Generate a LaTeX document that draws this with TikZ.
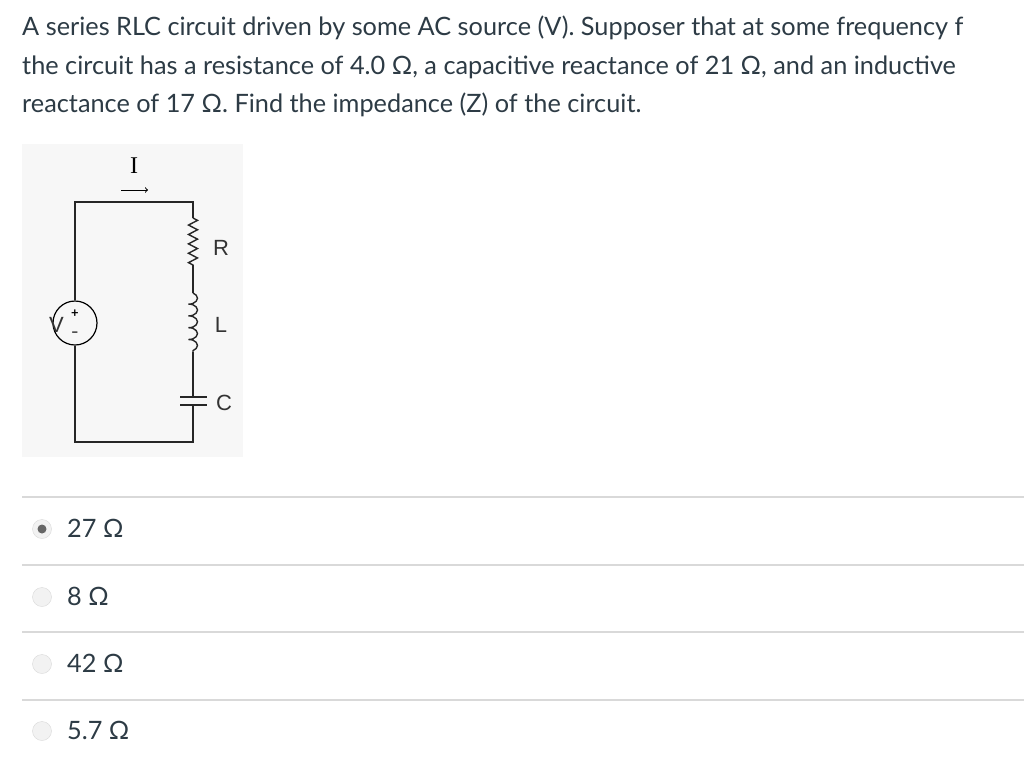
\documentclass[tikz,border=0pt]{standalone}
\usepackage{fontspec}
\setmainfont{Lato}
\newfontfamily\arialf{Liberation Sans}
\newfontfamily\serf{Liberation Serif}
\usetikzlibrary{decorations.pathmorphing}
\definecolor{txt}{HTML}{2D3B45}
\tikzset{x=1pt,y=-1pt,
 wire/.style={line width=1.4pt,black!85},
 q/.style={anchor=base west,font=\fontsize{25.3}{28}\selectfont,text=txt,inner sep=0},
 lab/.style={font=\arialf\fontsize{22}{24}\selectfont,text=black!80,inner sep=0},
 sep/.style={draw=black!15,line width=1.2pt},
 radio/.style={circle,minimum size=19pt,inner sep=0,draw=black!15,fill=black!5}}
\begin{document}
\begin{tikzpicture}
\useasboundingbox (0,0) rectangle (1024,769);
\fill[white] (0,0) rectangle (1024,769);
\node[q] (t1) at (22,35) {A series RLC circuit driven by some AC source (V). Supposer that at some frequency f};
\node[q] (t2) at (22,74) {the circuit has a resistance of 4.0 Ω, a capacitive reactance of 21 Ω, and an inductive};
\node[q] (t3) at (22,112) {reactance of 17 Ω. Find the impedance (Z) of the circuit.};
% circuit panel
\fill[black!3] (22,144) rectangle (243,457);
\coordinate (tl) at (75,202); \coordinate (tr) at (193,202);
\coordinate (bl) at (75,442); \coordinate (br) at (193,442);
\node[circle,draw,line width=1.2pt,minimum size=44pt,inner sep=0] (src) at (75,323) {};
\node[font=\bfseries\fontsize{13}{13}\selectfont,inner sep=0] at (75,314) {+};
\node[font=\bfseries\fontsize{13}{13}\selectfont,inner sep=0] at (75,334) {--};
\coordinate (r1) at (193,218); \coordinate (r2) at (193,265);
\coordinate (l1) at (193,293); \coordinate (l2) at (193,352);
\coordinate (c1) at (193,397); \coordinate (c2) at (193,405);
\draw[wire] (src.north) -- (tl) -- (tr) -- (r1);
\draw[wire,decorate,decoration={zigzag,segment length=9.4pt,amplitude=4.5pt}] (r1) -- (r2);
\draw[wire] (r2) -- (l1);
\draw[wire,decorate,decoration={coil,aspect=0.5,segment length=11.8pt,amplitude=4.5pt}] (l1) -- (l2);
\draw[wire] (l2) -- (c1);
\draw[wire] (180,397) -- (207,397);
\draw[wire] (180,405) -- (207,405);
\draw[wire] (c2) -- (br) -- (bl) -- (src.south);
\node[lab,anchor=east] (V) at (64,325) {V};
\node[lab] (R) at (221,248) {R};
\node[lab] (L) at (221,325) {L};
\node[lab] (C) at (224,403) {C};
\node[font=\serf\fontsize{24}{24}\selectfont,inner sep=0] (I) at (134,166) {I};
\draw[->,line width=1pt] (121,190) -- (148,190);
% options
\foreach \y in {497,565,632,700} \draw[sep] (22,\y) -- (1024,\y);
\node[radio] (o1) at (42,529) {};
\fill[black!60] (o1) circle (4.5pt);
\node[radio] (o2) at (42,597) {};
\node[radio] (o3) at (42,664) {};
\node[radio] (o4) at (42,731) {};
\node[q] at (67,537) {27 Ω};
\node[q] at (67,605) {8 Ω};
\node[q] at (67,672) {42 Ω};
\node[q] at (67,739) {5.7 Ω};
\end{tikzpicture}
\end{document}
